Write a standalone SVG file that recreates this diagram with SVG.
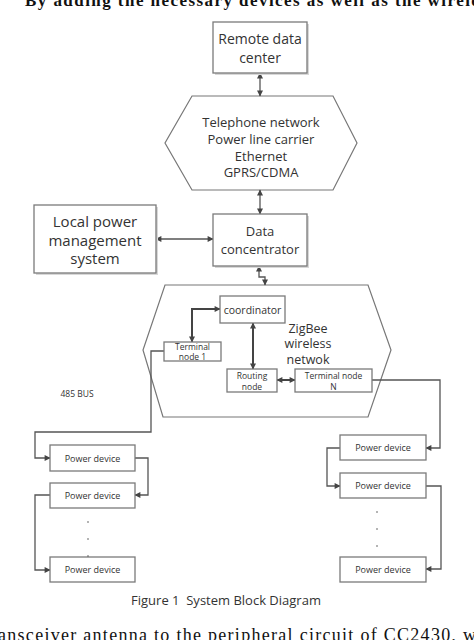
<svg xmlns="http://www.w3.org/2000/svg" width="474" height="640" viewBox="0 0 474 640">
<style>
.box{fill:#fff;stroke:#7a7a7a;stroke-width:1.3}
.sh{fill:#d8d8d8}
.hex{fill:#fff;stroke:#777;stroke-width:1.2}
.t{font-family:"Open Sans","Noto Sans",sans-serif;fill:#333;text-anchor:middle;dominant-baseline:central}
.c{fill:none;stroke:#555;stroke-width:1.3}
.ct{fill:none;stroke:#444;stroke-width:2}
.dot{fill:#555}
</style>
<defs>
<marker id="a" viewBox="0 0 10 10" refX="9" refY="5" markerWidth="7" markerHeight="6" markerUnits="userSpaceOnUse" orient="auto-start-reverse">
<path d="M0,0 L10,5 L0,10 Z" fill="#444"/>
</marker>
</defs>
<rect x="0" y="0" width="474" height="640" fill="#fff"/>
<text x="25" y="6" font-family="Liberation Serif,serif" font-weight="bold" font-size="17" fill="#111" textLength="470" lengthAdjust="spacing">By adding the necessary devices as well as the wireless</text>

<g id="network">
<polygon class="hex" points="192,96 333,96 357,143 333,190 192,190 165,143"/>
<text class="t" x="261" y="122" font-size="13">Telephone network</text>
<text class="t" x="261" y="138.5" font-size="13">Power line carrier</text>
<text class="t" x="261" y="155.5" font-size="13">Ethernet</text>
<text class="t" x="261" y="172" font-size="13">GPRS/CDMA</text>
</g>

<g id="zigbee">
<polygon class="hex" points="165,285 368,285 391,350 368,417 163,417 143,350"/>
<text class="t" x="308" y="328" font-size="12.5">ZigBee</text>
<text class="t" x="308" y="343.5" font-size="12.5">wireless</text>
<text class="t" x="308" y="359" font-size="12.5">netwok</text>
</g>

<g id="connectors">
<line class="c" x1="260" y1="73" x2="260" y2="96" marker-start="url(#a)" marker-end="url(#a)"/>
<line class="c" x1="260" y1="190" x2="260" y2="214" marker-start="url(#a)" marker-end="url(#a)"/>
<line class="c" x1="156" y1="239" x2="213" y2="239" marker-start="url(#a)" marker-end="url(#a)"/>
<path class="c" d="M259,266 L259,277 L265,277 L265,285" marker-start="url(#a)" marker-end="url(#a)"/>
<path class="ct" d="M220,309 L192,309 L192,342" marker-start="url(#a)" marker-end="url(#a)"/>
<line class="ct" x1="253" y1="323" x2="253" y2="369" marker-start="url(#a)" marker-end="url(#a)"/>
<line class="ct" x1="277" y1="380" x2="295" y2="380" marker-start="url(#a)" marker-end="url(#a)"/>
<path class="c" d="M164,351 L151,351 L151,432 L35,432 L35,458 L50,458" marker-end="url(#a)"/>
<path class="c" d="M135,458 L148,458 L148,495 L135,495" marker-end="url(#a)"/>
<path class="c" d="M50,495 L35,495 L35,570 L50,570" marker-end="url(#a)"/>
<path class="c" d="M372,380 L440,380 L440,448 L426,448" marker-end="url(#a)"/>
<path class="c" d="M340,448 L327,448 L327,486 L340,486" marker-end="url(#a)"/>
<path class="c" d="M426,486 L441,486 L441,569 L426,569" marker-end="url(#a)"/>
</g>

<g id="remote">
<rect class="sh" x="215" y="24" width="94" height="51"/>
<rect class="box" x="213" y="22" width="94" height="51"/>
<text class="t" x="260" y="38" font-size="14">Remote data</text>
<text class="t" x="260" y="57" font-size="14">center</text>
</g>

<g id="local">
<rect class="sh" x="36" y="207" width="122" height="68"/>
<rect class="box" x="34" y="205" width="122" height="68"/>
<text class="t" x="95" y="221" font-size="15">Local power</text>
<text class="t" x="95" y="239.5" font-size="15">management</text>
<text class="t" x="95" y="258" font-size="15">system</text>
</g>

<g id="concentrator">
<rect class="sh" x="215" y="216" width="94" height="52"/>
<rect class="box" x="213" y="214" width="94" height="52"/>
<text class="t" x="260" y="231" font-size="13">Data</text>
<text class="t" x="260" y="249" font-size="13">concentrator</text>
</g>

<g id="coordinator">
<rect class="box" x="220" y="296" width="65" height="27"/>
<text class="t" x="252.5" y="309.5" font-size="10.5">coordinator</text>
</g>

<g id="terminal1">
<rect class="box" x="164" y="342" width="57" height="19"/>
<text class="t" x="192.5" y="346.5" font-size="8.5">Terminal</text>
<text class="t" x="192.5" y="356" font-size="8.5">node 1</text>
</g>

<g id="routing">
<rect class="box" x="227" y="369" width="50" height="23"/>
<text class="t" x="252" y="375" font-size="8.5">Routing</text>
<text class="t" x="252" y="386" font-size="8.5">node</text>
</g>

<g id="terminalN">
<rect class="box" x="295" y="369" width="77" height="23"/>
<text class="t" x="333.5" y="375" font-size="8.5">Terminal node</text>
<text class="t" x="333.5" y="386" font-size="8.5">N</text>
</g>

<text class="t" x="77" y="393" font-size="8.5" fill="#666">485 BUS</text>

<g id="pdL1">
<rect class="box" x="50" y="445" width="85" height="26"/>
<text class="t" x="92.5" y="458" font-size="9">Power device</text>
</g>
<g id="pdL2">
<rect class="box" x="50" y="483" width="85" height="25"/>
<text class="t" x="92.5" y="495.5" font-size="9">Power device</text>
</g>
<g id="pdL3">
<rect class="box" x="50" y="557" width="85" height="25"/>
<text class="t" x="92.5" y="569.5" font-size="9">Power device</text>
</g>
<circle class="dot" cx="88" cy="522" r="0.8"/>
<circle class="dot" cx="88" cy="539" r="0.8"/>
<circle class="dot" cx="88" cy="556" r="0.8"/>

<g id="pdR1">
<rect class="box" x="340" y="435" width="86" height="25"/>
<text class="t" x="383" y="447.5" font-size="9">Power device</text>
</g>
<g id="pdR2">
<rect class="box" x="340" y="473" width="86" height="25"/>
<text class="t" x="383" y="485.5" font-size="9">Power device</text>
</g>
<g id="pdR3">
<rect class="box" x="340" y="557" width="86" height="25"/>
<text class="t" x="383" y="569.5" font-size="9">Power device</text>
</g>
<circle class="dot" cx="377" cy="512" r="0.8"/>
<circle class="dot" cx="377" cy="529" r="0.8"/>
<circle class="dot" cx="377" cy="546" r="0.8"/>

<text class="t" x="226" y="600" font-size="13" fill="#222">Figure 1&#160; System Block Diagram</text>
<text x="-2" y="641" font-family="Liberation Serif,serif" font-size="18" fill="#111" textLength="478" lengthAdjust="spacing">ansceiver antenna to the peripheral circuit of CC2430, w</text>
</svg>
